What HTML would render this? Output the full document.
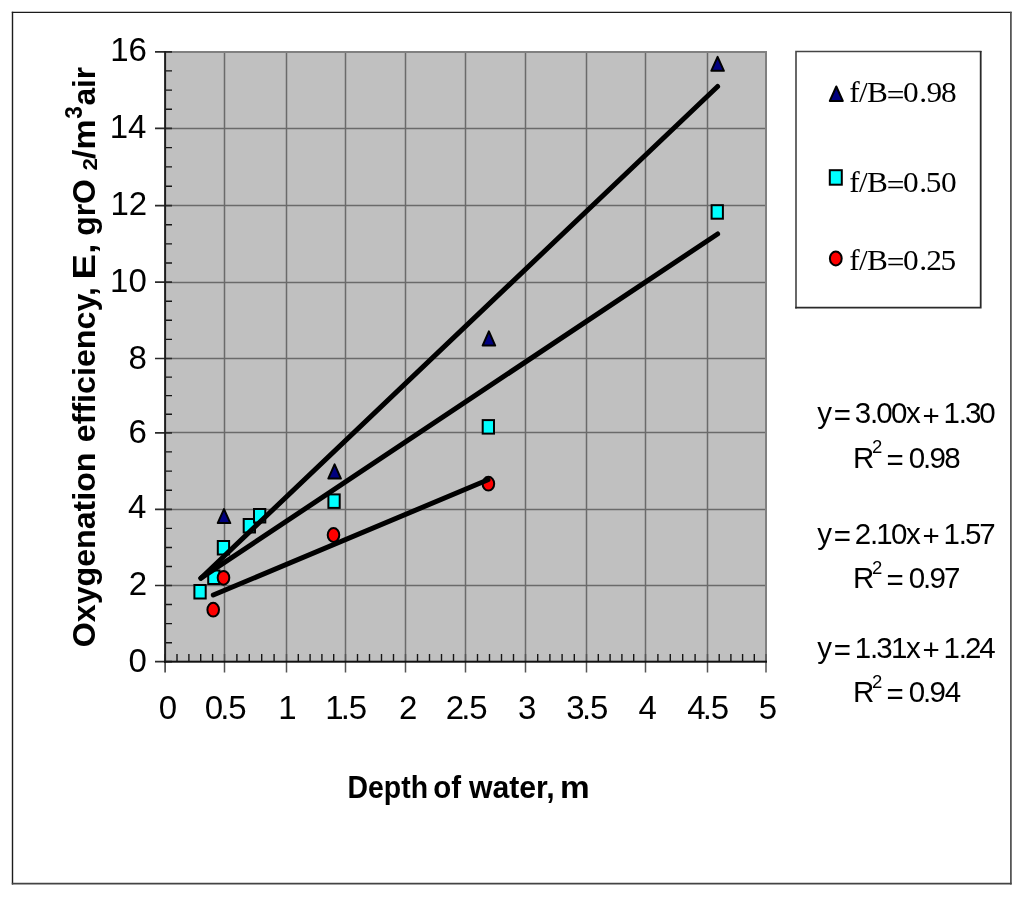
<!DOCTYPE html>
<html><head><meta charset="utf-8"><title>Oxygenation efficiency chart</title>
<style>html,body{margin:0;padding:0;background:#fff;overflow:hidden;}svg{display:block;}</style>
</head><body>
<svg width="1024" height="897" viewBox="0 0 1024 897">
<rect x="0" y="0" width="1024" height="897" fill="#fff"/>
<path d="M12.5 11.8V884.5" stroke="#1c1c1c" stroke-width="1.4" fill="none"/>
<path d="M11.8 12.4H1011.6" stroke="#1b1b1b" stroke-width="1.4" fill="none"/>
<path d="M1010.9 11.8V884.5" stroke="#4e4e4e" stroke-width="1.7" fill="none"/>
<path d="M11.8 883.7H1011.6" stroke="#444" stroke-width="1.8" fill="none"/>
<rect x="165" y="51" width="601" height="611" fill="#c0c0c0"/>
<path d="M224.5 51V662 M286.5 51V662 M345.5 51V662 M405.5 51V662 M465.5 51V662 M525.5 51V662 M586.5 51V662 M645.5 51V662 M707.5 51V662 M165 128.5H767 M165 205.5H767 M165 282.5H767 M165 358.5H767 M165 432.5H767 M165 509.5H767 M165 585.5H767" stroke="#6a6a6a" stroke-width="1.5" fill="none"/>
<path d="M165 642.7H172 M165 623.6H172 M165 604.5H172 M165 566.5H172 M165 547.5H172 M165 528.4H172 M165 490.2H172 M165 471.1H172 M165 451.9H172 M165 414.2H172 M165 395.6H172 M165 377.1H172 M165 339.4H172 M165 320.3H172 M165 301.2H172 M165 263.0H172 M165 243.9H172 M165 224.7H172 M165 186.3H172 M165 166.9H172 M165 147.6H172 M165 109.2H172 M165 90.1H172 M165 70.9H172 M177.0 662V654 M188.9 662V654 M200.7 662V654 M212.6 662V654 M236.9 662V654 M249.3 662V654 M261.7 662V654 M274.1 662V654 M298.3 662V654 M310.1 662V654 M321.9 662V654 M333.7 662V654 M357.5 662V654 M369.5 662V654 M381.5 662V654 M393.5 662V654 M417.5 662V654 M429.5 662V654 M441.5 662V654 M453.5 662V654 M477.5 662V654 M489.5 662V654 M501.5 662V654 M513.5 662V654 M537.7 662V654 M549.9 662V654 M562.1 662V654 M574.3 662V654 M598.3 662V654 M610.1 662V654 M621.9 662V654 M633.7 662V654 M657.9 662V654 M670.3 662V654 M682.7 662V654 M695.1 662V654 M719.2 662V654 M730.9 662V654 M742.6 662V654 M754.3 662V654" stroke="#151515" stroke-width="1.4" fill="none"/>
<rect x="165" y="51" width="602" height="2" fill="#808080"/>
<rect x="765" y="51" width="2" height="611" fill="#808080"/>
<path d="M155 661.7H172 M155 585.5H172 M155 509.4H172 M155 432.8H172 M155 358.5H172 M155 282.1H172 M155 205.6H172 M155 128.3H172 M155 51.8H172" stroke="#2a2a2a" stroke-width="1.7" fill="none"/>
<path d="M224.5 654V672.5 M286.5 654V672.5 M345.5 654V672.5 M405.5 654V672.5 M465.5 654V672.5 M525.5 654V672.5 M586.5 654V672.5 M645.5 654V672.5 M707.5 654V672.5 M766.0 654V672.5" stroke="#555" stroke-width="1.5" fill="none"/>
<path d="M165.1 654V672.5" stroke="#333" stroke-width="1.5" fill="none"/>
<rect x="164.1" y="51" width="2" height="612" fill="#1e1e1e"/>
<rect x="164" y="660.7" width="603" height="2" fill="#111"/>
<path d="M224.0 509.1L230.3 523.1L217.7 523.1Z" fill="#000080" stroke="#000" stroke-width="2" stroke-linejoin="round"/>
<path d="M334.6 464.4L340.9 478.6L328.3 478.6Z" fill="#000080" stroke="#000" stroke-width="2" stroke-linejoin="round"/>
<path d="M488.9 331.4L495.2 345.6L482.6 345.6Z" fill="#000080" stroke="#000" stroke-width="2" stroke-linejoin="round"/>
<path d="M717.6 56.8L723.9 70.8L711.3 70.8Z" fill="#000080" stroke="#000" stroke-width="2" stroke-linejoin="round"/>
<rect x="194.4" y="585.0" width="11.3" height="13.5" fill="#00ffff" stroke="#000" stroke-width="2"/>
<rect x="208.2" y="570.5" width="11.3" height="13.5" fill="#00ffff" stroke="#000" stroke-width="2"/>
<rect x="217.8" y="541.0" width="11.3" height="13.5" fill="#00ffff" stroke="#000" stroke-width="2"/>
<rect x="243.7" y="519.0" width="11.3" height="13.5" fill="#00ffff" stroke="#000" stroke-width="2"/>
<rect x="254.0" y="509.0" width="11.3" height="13.5" fill="#00ffff" stroke="#000" stroke-width="2"/>
<rect x="328.4" y="494.4" width="11.3" height="13.5" fill="#00ffff" stroke="#000" stroke-width="2"/>
<rect x="482.7" y="420.1" width="11.3" height="13.5" fill="#00ffff" stroke="#000" stroke-width="2"/>
<rect x="711.6" y="205.2" width="11.3" height="13.5" fill="#00ffff" stroke="#000" stroke-width="2"/>
<ellipse cx="213.2" cy="609.7" rx="5.8" ry="6.9" fill="#ff0000" stroke="#000" stroke-width="2"/>
<ellipse cx="223.5" cy="577.8" rx="5.8" ry="6.9" fill="#ff0000" stroke="#000" stroke-width="2"/>
<ellipse cx="333.5" cy="535.0" rx="5.8" ry="6.9" fill="#ff0000" stroke="#000" stroke-width="2"/>
<ellipse cx="488.4" cy="483.7" rx="5.8" ry="6.9" fill="#ff0000" stroke="#000" stroke-width="2"/>
<line x1="200.9" y1="578.2" x2="717.6" y2="86.5" stroke="#000" stroke-width="5" stroke-linecap="round"/>
<line x1="200.9" y1="578.2" x2="717.6" y2="234.0" stroke="#000" stroke-width="5" stroke-linecap="round"/>
<line x1="213.3" y1="595.0" x2="488.0" y2="479.8" stroke="#000" stroke-width="5" stroke-linecap="round"/>
<text x="128.44" y="671.63" font-family="'Liberation Sans', Arial, Helvetica, sans-serif" font-size="33">0</text>
<text x="128.81" y="595.38" font-family="'Liberation Sans', Arial, Helvetica, sans-serif" font-size="33">2</text>
<text x="128.11" y="518.43" font-family="'Liberation Sans', Arial, Helvetica, sans-serif" font-size="33">4</text>
<text x="128.60" y="442.63" font-family="'Liberation Sans', Arial, Helvetica, sans-serif" font-size="33">6</text>
<text x="128.58" y="368.58" font-family="'Liberation Sans', Arial, Helvetica, sans-serif" font-size="33">8</text>
<text x="110.08" y="291.68" font-family="'Liberation Sans', Arial, Helvetica, sans-serif" font-size="33">10</text>
<text x="110.45" y="214.78" font-family="'Liberation Sans', Arial, Helvetica, sans-serif" font-size="33">12</text>
<text x="109.76" y="137.93" font-family="'Liberation Sans', Arial, Helvetica, sans-serif" font-size="33">14</text>
<text x="110.24" y="61.33" font-family="'Liberation Sans', Arial, Helvetica, sans-serif" font-size="33">16</text>
<text x="158.87" y="719.08" font-family="'Liberation Sans', Arial, Helvetica, sans-serif" font-size="33">0</text>
<text x="204.66" y="719.08" dx="0 -2.7 -1.2" font-family="'Liberation Sans', Arial, Helvetica, sans-serif" font-size="33">0.5</text>
<text x="278.35" y="719.08" font-family="'Liberation Sans', Arial, Helvetica, sans-serif" font-size="33">1</text>
<text x="325.21" y="719.08" dx="0 -2.7 -1.2" font-family="'Liberation Sans', Arial, Helvetica, sans-serif" font-size="33">1.5</text>
<text x="399.02" y="719.08" font-family="'Liberation Sans', Arial, Helvetica, sans-serif" font-size="33">2</text>
<text x="445.68" y="719.08" dx="0 -2.7 -1.2" font-family="'Liberation Sans', Arial, Helvetica, sans-serif" font-size="33">2.5</text>
<text x="517.92" y="719.08" font-family="'Liberation Sans', Arial, Helvetica, sans-serif" font-size="33">3</text>
<text x="566.28" y="719.08" dx="0 -2.7 -1.2" font-family="'Liberation Sans', Arial, Helvetica, sans-serif" font-size="33">3.5</text>
<text x="638.53" y="719.08" font-family="'Liberation Sans', Arial, Helvetica, sans-serif" font-size="33">4</text>
<text x="687.13" y="719.08" dx="0 -2.7 -1.2" font-family="'Liberation Sans', Arial, Helvetica, sans-serif" font-size="33">4.5</text>
<text x="758.76" y="719.08" font-family="'Liberation Sans', Arial, Helvetica, sans-serif" font-size="33">5</text>
<text x="347.50" y="797.6" font-family="'Liberation Sans', Arial, Helvetica, sans-serif" font-weight="bold" font-size="31.5" textLength="80.57" lengthAdjust="spacingAndGlyphs">Depth</text>
<text x="433.35" y="797.6" font-family="'Liberation Sans', Arial, Helvetica, sans-serif" font-weight="bold" font-size="31.5" textLength="27.79" lengthAdjust="spacingAndGlyphs">of</text>
<text x="468.89" y="797.6" font-family="'Liberation Sans', Arial, Helvetica, sans-serif" font-weight="bold" font-size="31.5" textLength="85.70" lengthAdjust="spacingAndGlyphs">water,</text>
<text x="559.90" y="797.6" font-family="'Liberation Sans', Arial, Helvetica, sans-serif" font-weight="bold" font-size="31.5" textLength="29.67" lengthAdjust="spacingAndGlyphs">m</text>
<g transform="translate(95.2,700) rotate(-90)"><text x="52.88" y="0" font-family="'Liberation Sans', Arial, Helvetica, sans-serif" font-weight="bold" font-size="32" textLength="194.61" lengthAdjust="spacingAndGlyphs">Oxygenation</text><text x="257.76" y="0" font-family="'Liberation Sans', Arial, Helvetica, sans-serif" font-weight="bold" font-size="32" textLength="155.16" lengthAdjust="spacingAndGlyphs">efficiency,</text><text x="420.44" y="0" font-family="'Liberation Sans', Arial, Helvetica, sans-serif" font-weight="bold" font-size="32" textLength="36.11" lengthAdjust="spacingAndGlyphs">E,</text><text x="464.30" y="0" font-family="'Liberation Sans', Arial, Helvetica, sans-serif" font-weight="bold" font-size="32" textLength="56.54" lengthAdjust="spacingAndGlyphs">grO</text><text x="529.63" y="1.6" font-family="'Liberation Sans', Arial, Helvetica, sans-serif" font-weight="bold" font-size="21" textLength="12.36" lengthAdjust="spacingAndGlyphs">2</text><text x="540.97" y="0" font-family="'Liberation Sans', Arial, Helvetica, sans-serif" font-weight="bold" font-size="32" textLength="39.64" lengthAdjust="spacingAndGlyphs">/m</text><text x="581.28" y="-13" font-family="'Liberation Sans', Arial, Helvetica, sans-serif" font-weight="bold" font-size="23" textLength="12.53" lengthAdjust="spacingAndGlyphs">3</text><text x="594.47" y="0" font-family="'Liberation Sans', Arial, Helvetica, sans-serif" font-weight="bold" font-size="32" textLength="38.71" lengthAdjust="spacingAndGlyphs">air</text></g>
<rect x="796" y="51.5" width="184.7" height="256.2" fill="#fff"/>
<path d="M796 308.5V51.5H981.5" stroke="#444" stroke-width="1.6" fill="none"/>
<path d="M980.7 51V307.7H795.2" stroke="#2a2a2a" stroke-width="1.8" fill="none"/>
<path d="M836.3 86.5L842.8 101.0L829.8 101.0Z" fill="#000080" stroke="#000" stroke-width="2" stroke-linejoin="round"/>
<rect x="829.8" y="170.2" width="12" height="14.5" fill="#00ffff" stroke="#000" stroke-width="2"/>
<ellipse cx="835.8" cy="258.5" rx="5.9" ry="7" fill="#ff0000" stroke="#000" stroke-width="2"/>
<text x="772.12 781.00 788.18 806.22 820.91 835.58 842.35 855.55" y="102.4" dy="0 0 0 2.6 -2.6" transform="scale(1.1,1)" font-family="'Liberation Serif', 'Times New Roman', serif" font-size="28.5">f/B=0.98</text>
<text x="772.12 781.00 788.18 806.22 820.91 835.58 841.62 855.55" y="192" dy="0 0 0 2.6 -2.6" transform="scale(1.1,1)" font-family="'Liberation Serif', 'Times New Roman', serif" font-size="28.5">f/B=0.50</text>
<text x="772.12 781.00 788.18 806.22 820.91 835.58 842.02 854.98" y="269.6" dy="0 0 0 2.6 -2.6" transform="scale(1.1,1)" font-family="'Liberation Serif', 'Times New Roman', serif" font-size="28.5">f/B=0.25</text>
<text x="817.23 833.76 854.78 870.01 876.15 891.05 905.92 922.46 943.38 958.71 964.98 979.35" y="423.3" dy="0 2 -2 0 0 0 0 2.7 -2.7" font-family="'Liberation Sans', Arial, Helvetica, sans-serif" font-size="29.5">y=3.00x+1.30</text>
<text y="467.7" font-family="'Liberation Sans', Arial, Helvetica, sans-serif" font-size="29.5"><tspan x="852.88">R</tspan><tspan x="871.97" y="453.3" font-size="18.5">2</tspan><tspan x="886.56" y="469.8">=</tspan><tspan x="908.65 922.91 929.52 944.22" y="467.7">0.98</tspan></text>
<text x="817.23 833.76 854.78 870.01 876.15 891.05 905.92 922.46 943.38 958.71 964.98 979.35" y="543.6" dy="0 2 -2 0 0 0 0 2.7 -2.7" font-family="'Liberation Sans', Arial, Helvetica, sans-serif" font-size="29.5">y=2.10x+1.57</text>
<text y="588.0" font-family="'Liberation Sans', Arial, Helvetica, sans-serif" font-size="29.5"><tspan x="852.88">R</tspan><tspan x="871.97" y="573.6" font-size="18.5">2</tspan><tspan x="886.56" y="590.1">=</tspan><tspan x="908.65 922.91 929.52 943.99" y="588.0">0.97</tspan></text>
<text x="817.23 833.76 854.78 870.01 876.15 891.05 905.92 922.46 943.38 958.71 964.98 979.35" y="657.6" dy="0 2 -2 0 0 0 0 2.7 -2.7" font-family="'Liberation Sans', Arial, Helvetica, sans-serif" font-size="29.5">y=1.31x+1.24</text>
<text y="701.9" font-family="'Liberation Sans', Arial, Helvetica, sans-serif" font-size="29.5"><tspan x="852.88">R</tspan><tspan x="871.97" y="687.5" font-size="18.5">2</tspan><tspan x="886.56" y="704.0">=</tspan><tspan x="908.65 922.91 929.52 944.82" y="701.9">0.94</tspan></text>
</svg>
</body></html>
